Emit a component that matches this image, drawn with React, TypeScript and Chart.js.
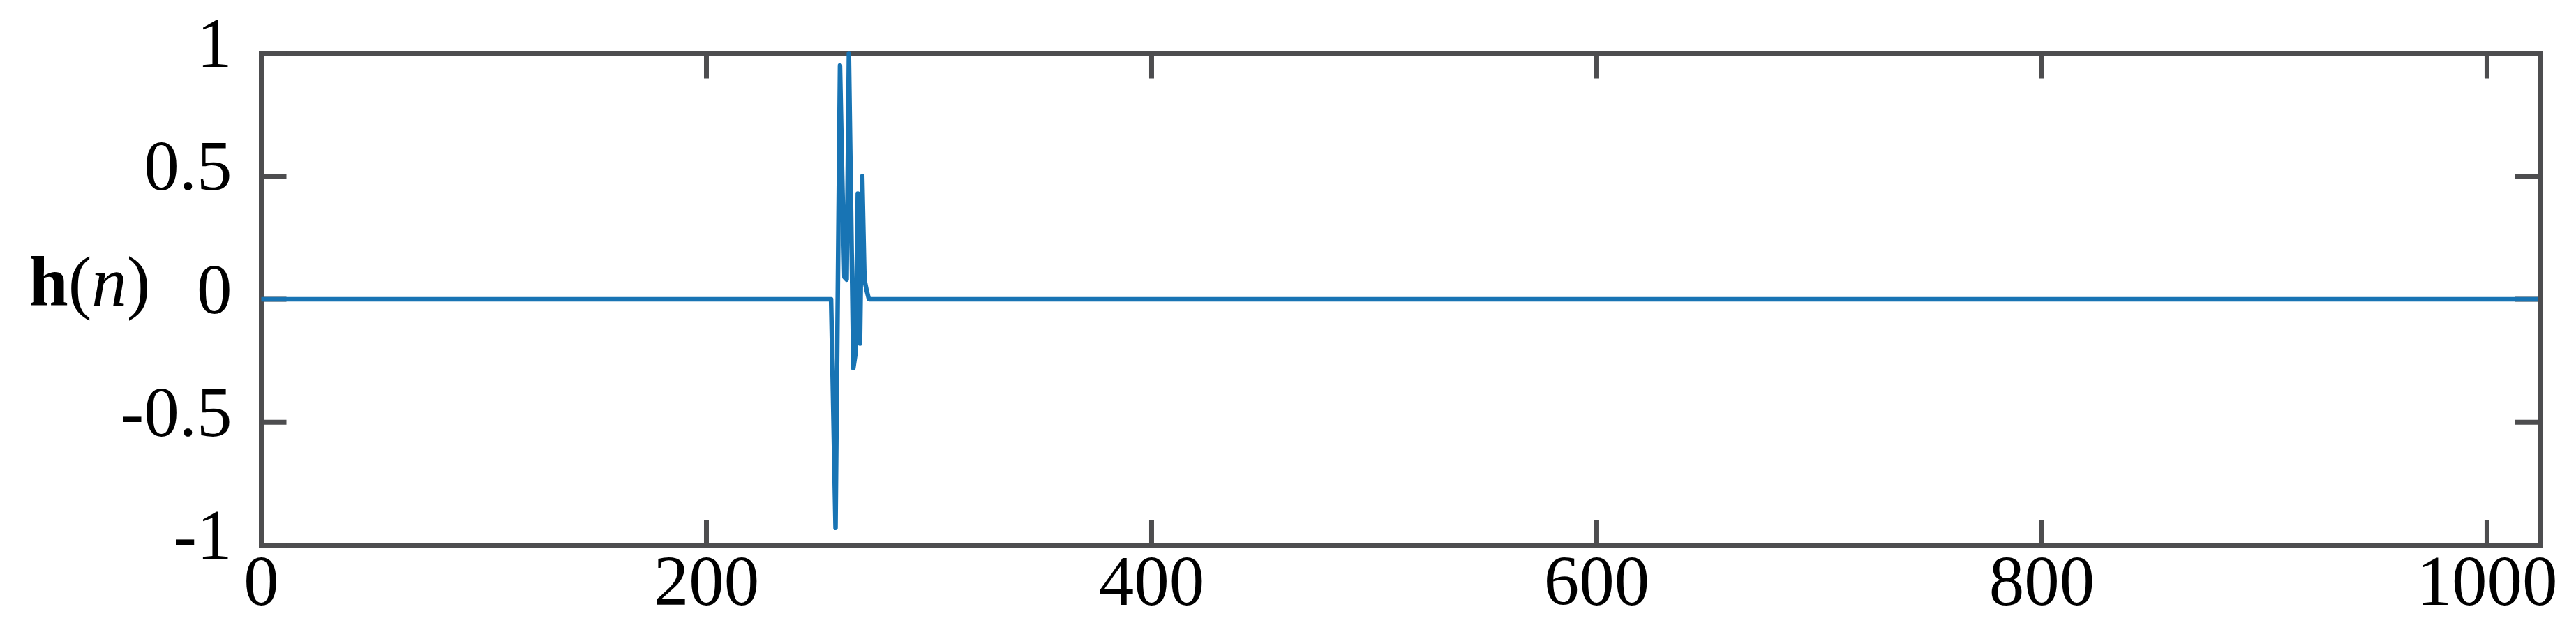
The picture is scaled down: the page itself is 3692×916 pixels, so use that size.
import React, { useEffect, useRef } from "react";
import { Chart, registerables } from "chart.js";

Chart.register(...registerables);

// ---- data (sample index n and impulse response h(n)) ----
const sampleIndex = [0, 256, 257, 258, 259, 260, 261, 262, 263, 264, 265, 266, 267, 268, 269, 270, 271, 272, 273, 1023];
const impulseResponse = [0, 0, -0.46, -0.93, 0.01, 0.95, 0.5, 0.09, 0.08, 1.0, 0.36, -0.28, -0.22, 0.43, -0.18, 0.5, 0.08, 0.035, 0, 0];

const xTicks = [0, 200, 400, 600, 800, 1000];
const yTicks = [-1, -0.5, 0, 0.5, 1];
const xRange = [0, 1024];
const yRange = [-1, 1];

const FONT_FAMILY = '"Liberation Serif", "Times New Roman", Times, serif';
const FONT_SIZE = 101;
const LINE_COLOR = "#1874b4";
const AXIS_COLOR = "#4d4d4f";
const TEXT_COLOR = "#000000";

const W = 3692;
const H = 916;

const axesBoxPlugin = {
  id: "axesBox",
  beforeDatasetsDraw(chart: any) {
    const { ctx, chartArea, scales } = chart;
    const { left, right, top, bottom } = chartArea;
    const tickLen = 36;
    ctx.save();
    ctx.strokeStyle = AXIS_COLOR;
    ctx.lineWidth = 7;
    ctx.lineCap = "butt";
    ctx.lineJoin = "miter";
    ctx.strokeRect(left, top, right - left, bottom - top);
    ctx.beginPath();
    for (const v of xTicks) {
      const px = scales.x.getPixelForValue(v);
      ctx.moveTo(px, bottom);
      ctx.lineTo(px, bottom - tickLen);
      ctx.moveTo(px, top);
      ctx.lineTo(px, top + tickLen);
    }
    for (const v of yTicks) {
      const py = scales.y.getPixelForValue(v);
      ctx.moveTo(left, py);
      ctx.lineTo(left + tickLen, py);
      ctx.moveTo(right, py);
      ctx.lineTo(right - tickLen, py);
    }
    ctx.stroke();
    ctx.restore();
  },
};

const yLabelPlugin = {
  id: "yLabel",
  afterDraw(chart: any) {
    const { ctx, chartArea, scales } = chart;
    const baseY = scales.y.getPixelForValue(0) + 9;
    let cx = chartArea.left - 333;
    const parts = [
      { t: "h", f: `bold ${FONT_SIZE}px ${FONT_FAMILY}` },
      { t: "(", f: `${FONT_SIZE}px ${FONT_FAMILY}` },
      { t: "n", f: `italic ${FONT_SIZE}px ${FONT_FAMILY}` },
      { t: ")", f: `${FONT_SIZE}px ${FONT_FAMILY}` },
    ];
    ctx.save();
    ctx.fillStyle = TEXT_COLOR;
    ctx.textBaseline = "alphabetic";
    ctx.textAlign = "left";
    for (const p of parts) {
      ctx.font = p.f;
      ctx.fillText(p.t, cx, baseY);
      cx += ctx.measureText(p.t).width;
    }
    ctx.restore();
  },
};

export default function App() {
  const canvasRef = useRef<HTMLCanvasElement | null>(null);

  useEffect(() => {
    if (!canvasRef.current) return;
    const points = sampleIndex.map((n, i) => ({ x: n, y: impulseResponse[i] }));
    const chart = new Chart(canvasRef.current, {
      type: "line",
      data: {
        datasets: [
          {
            data: points,
            borderColor: LINE_COLOR,
            backgroundColor: LINE_COLOR,
            borderWidth: 6.5,
            pointRadius: 0,
            tension: 0,
            fill: false,
            clip: false,
            borderJoinStyle: "round",
            borderCapStyle: "butt",
          } as any,
        ],
      },
      options: {
        animation: false,
        responsive: false,
        maintainAspectRatio: false,
        layout: { padding: { left: 0, right: 51, top: 76.5, bottom: 0 } },
        plugins: {
          legend: { display: false },
          tooltip: { enabled: false },
          title: { display: false },
        },
        scales: {
          x: {
            type: "linear",
            min: xRange[0],
            max: xRange[1],
            grid: { display: false, drawTicks: false },
            border: { display: false },
            afterBuildTicks: (s: any) => {
              s.ticks = xTicks.map((v) => ({ value: v }));
            },
            afterFit: (s: any) => {
              s.height = H - 781.5;
              s.paddingLeft = 0;
              s.paddingRight = 0;
            },
            ticks: {
              autoSkip: false,
              maxRotation: 0,
              minRotation: 0,
              padding: -2,
              color: TEXT_COLOR,
              font: { family: FONT_FAMILY, size: FONT_SIZE },
              callback: (v: any) => String(v),
            },
          },
          y: {
            type: "linear",
            min: yRange[0],
            max: yRange[1],
            grid: { display: false, drawTicks: false },
            border: { display: false },
            afterBuildTicks: (s: any) => {
              s.ticks = yTicks.map((v) => ({ value: v }));
            },
            afterFit: (s: any) => {
              s.width = 374.5;
              s.paddingTop = 0;
              s.paddingBottom = 0;
            },
            ticks: {
              autoSkip: false,
              padding: 42,
              labelOffset: -7,
              color: TEXT_COLOR,
              font: { family: FONT_FAMILY, size: FONT_SIZE },
              callback: (v: any) => String(v),
            },
          },
        },
      } as any,
      plugins: [axesBoxPlugin, yLabelPlugin],
    });
    return () => chart.destroy();
  }, []);

  return (
    <div
      style={{
        position: "fixed",
        left: 0,
        top: 0,
        width: W,
        height: H,
        background: "#ffffff",
      }}
    >
      <canvas ref={canvasRef} width={W} height={H} style={{ display: "block", width: W, height: H }} />
    </div>
  );
}
